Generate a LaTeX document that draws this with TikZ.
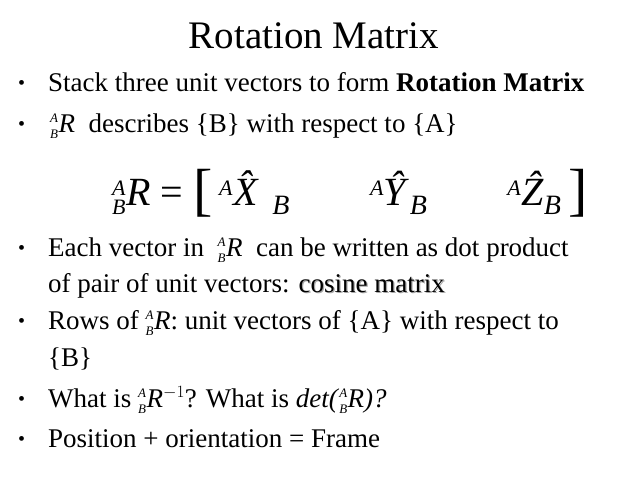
\documentclass[tikz,border=0pt]{standalone}
\usepackage{amsmath}
\usepackage{fontspec}
\setmainfont{Liberation Serif}
\newcommand\preg[4]{\ensuremath{{}^{\mbox{\fontsize{#1}{#1}\selectfont\itshape#2}}_{\mbox{\fontsize{#1}{#1}\selectfont\itshape#3}}}\textit{#4}}
\newcommand\pre[3]{\preg{13}{#1}{#2}{#3}}
\newcommand\preq[3]{\preg{22}{#1}{#2}{#3}}
\newcommand\shad[1]{\rlap{\kern1.2pt\raisebox{-1.2pt}{\textcolor{black!35}{#1}}}#1}
\begin{document}
\begin{tikzpicture}[x=1pt,y=-1pt,
  bl/.style={anchor=base west,inner sep=0pt,font=\fontsize{27}{32}\selectfont},
  bu/.style={anchor=base west,inner sep=0pt,font=\fontsize{20}{26}\selectfont}]
\useasboundingbox (0,0) rectangle (638,479);
\node[anchor=base,inner sep=0pt,font=\fontsize{39}{44}\selectfont] (t) at (314,48) {Rotation Matrix};
\foreach \y in {91,132,256,329,407,447}{\node[bu] (b\y) at (18,\y-2) {•};}
\node[bl] (l1) at (48,91) {Stack three unit vectors to form \textbf{Rotation Matrix}};
\node[bl] (l2) at (50,132) {\pre{A}{B}{R}\ \ describes \{B\} with respect to \{A\}};
\node[anchor=base west,inner sep=0pt,font=\fontsize{40}{46}\selectfont] (eq) at (112,205)
 {\preq{A}{B}{R} = \raisebox{-4pt}{\fontsize{58}{60}\selectfont[}\,\preq{A}{}{\^X}\textsubscript{\itshape B}\qquad\preq{A}{}{\^Y}\textsubscript{\itshape B}\qquad\preq{A}{}{\^Z}\textsubscript{\itshape B}\,\raisebox{-4pt}{\fontsize{58}{60}\selectfont]}};
\node[bl] (l4) at (48,256) {Each vector in \ \pre{A}{B}{R}\ \ can be written as dot product};
\node[bl] (l5) at (48,292) {of pair of unit vectors: \shad{cosine matrix}};
\node[bl] (l6) at (48,329) {Rows of \pre{A}{B}{R}: unit vectors of \{A\} with respect to};
\node[bl] (l7) at (48,366) {\{B\}};
\node[bl] (l8) at (48,407) {What is \pre{A}{B}{R}$^{-1}$? What is \textit{det(}\pre{A}{B}{R}\textit{)?}};
\node[bl] (l9) at (48,447) {Position + orientation = Frame};
\end{tikzpicture}
\end{document}
